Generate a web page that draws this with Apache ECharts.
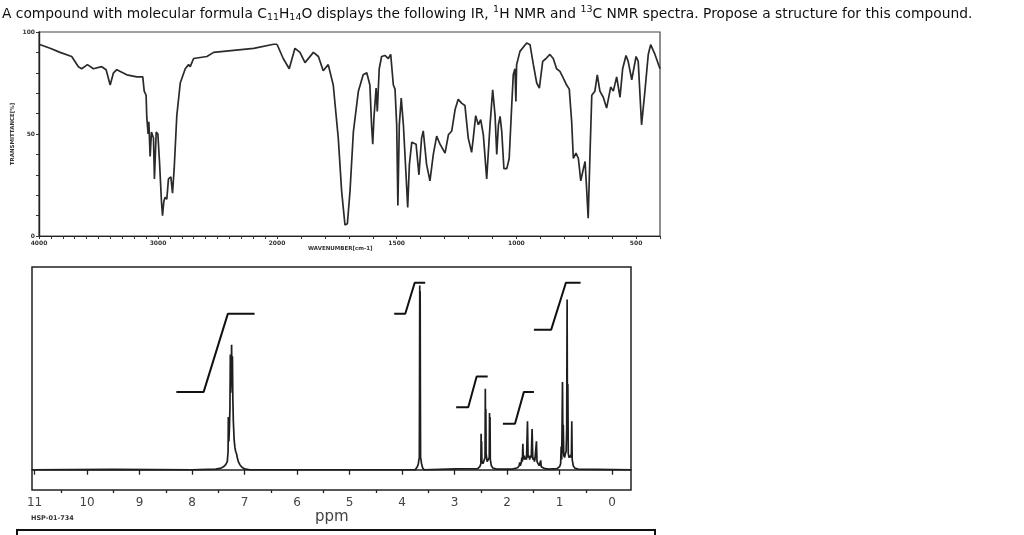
<!DOCTYPE html>
<html><head><meta charset="utf-8">
<script src="https://cdn.jsdelivr.net/npm/echarts@6/dist/echarts.min.js"></script>
<style>html,body{margin:0;padding:0;background:#fff}#c{width:1024px;height:535px}</style>
</head><body><div id="c"></div>
<script>
// ---------- IR spectrum (wavenumber cm-1, transmittance %) ----------
const irWavenumber = [4000,3907,3823,3725,3669,3641,3593,3543,3473,3436,3402,3374,3346,3262,3178,3128,3116,3100,3094,3083,3077,3066,3055,3038,3030,3015,3001,2987,2971,2962,2951,2940,2926,2912,2892,2878,2864,2842,2813,2771,2743,2729,2701,2589,2533,2365,2196,2028,2000,
1974,1949,1925,1904,1883,1848,1827,1807,1786,1765,1744,1730,1716,1706,1695,1681,1660,1640,1625,1612,1605,1600,1595,1586,1581,1573,1563,1549,1535,1525,1514,1507,1500,1495,1489,1481,1472,1461,1454,1447,1437,1419,1407,1396,1389,1375,1361,1347,1333,1319,1298,1284,1270,1256,1243,1228,1215,1201,1187,1180,1170,1159,1149,1138,1124,1110,1099,1089,1082,1075,1068,1061,1052,1040,1030,1020,1013,1006,1002,999,985,957,943,929,915,904,890,876,860,846,832,818,804,790,779,769,762,751,741,731,720,713,706,700,693,685,672,662,651,637,623,606,595,581,567,556,542,533,518,500,491,477,463,449,439,421,400];
const irTransmittance = [94,92,90,88,83,82,84,82,83,81.5,74,80,81.5,79,78,78,71,69,58,50,56,39,51,48,28,51,50,36,17,10,17,19,18,28,29,21,33,59,75,82,84,83,87,88,90,91,92,94,94,
87,82,92,90,85,90,88,81,84,74,48,22,5.4,6,22,51,71,79,80,74,54.5,45,58,72.5,61,82,88,88.5,87,89,74,72,54.5,15,54.5,67.6,54.5,30,14,35,46,45,30,48,51.5,35,27,40,49,45,40.6,49.6,51.5,62,67,65,64,48,41,48,59,54.5,57,49.6,28,54.5,71.7,59,40,54.5,58.6,51,33,33,38,62.7,79,82,66,84,90.5,94.6,93.8,84,75,72.5,85.6,87,89,87,82,80.7,77.4,74,72,56,38,40.6,38,27,33,36.5,22,8.7,38,69,71,79,71,68,62.7,73,71,78,68,82,88.5,85.6,76.6,88,85.6,54.5,71,89,93.8,89,82];
const irLabelsHigh = [4000, 3000];
const irLabelsLow = [2000, 1500, 1000, 500];
const irYLabels = [0, 50, 100];

// ---------- 1H NMR spectrum (ppm, relative intensity) ----------
const nmrShift = [11.05,9.5,8.0,7.55,7.45,7.40,7.36,7.33,7.315,7.31,7.30,7.29,7.28,7.272,7.265,7.255,7.248,7.24,7.232,7.225,7.215,7.20,7.185,7.17,7.155,7.14,7.12,7.09,7.05,7.0,6.9,4.38,4.36,4.34,3.75,3.71,3.69,3.68,3.672,3.668,3.664,3.66,3.656,3.652,3.648,3.64,3.63,3.61,3.58,2.98,2.56,2.52,2.50,2.495,2.49,2.486,2.48,2.46,2.42,2.415,2.41,2.405,2.40,2.38,2.34,2.335,2.33,2.325,2.32,2.30,2.27,2.2,1.9,1.80,1.77,1.76,1.75,1.73,1.72,1.71,1.70,1.69,1.67,1.66,1.65,1.63,1.612,1.60,1.58,1.57,1.56,1.54,1.524,1.51,1.49,1.48,1.47,1.441,1.43,1.41,1.39,1.36,1.35,1.32,1.28,1.2,1.05,1.0,0.98,0.97,0.96,0.945,0.935,0.93,0.92,0.905,0.89,0.875,0.865,0.857,0.85,0.843,0.835,0.82,0.80,0.79,0.775,0.768,0.76,0.74,0.71,0.65,0.3,-0.36];
const nmrIntensity = [0,0.2,0,0.3,0.8,1.5,2.5,4,9,26,14,20,30,56.8,38,45,61.7,44,56,36,24,15,11,9,8,6,4,2.5,1.2,0.4,0,0,0.9,0,0,1.5,3,5,6,40,90.9,45,88,40,6,5,3,1,0,0.4,0.5,1.5,3,17.8,5,14,4,3,6,40,12,30,8,4,6,28,10,26,5,2,0.8,0.3,0.3,1,2,3.6,2,3.5,6,4,12.8,5,7,5,6,5,23.9,6,7,5,7,6,20.1,5,6,4,5,14,4,3,2,4.6,1.5,1,0.5,0.3,0.5,1.5,3,11.5,5,43.3,8,22.2,7,6,8,9,20,84,15,42.3,8,6,7,6,8,23.9,5,2,0.8,0.3,0.2,0];
const nmrTickLabels = [0,1,2,3,4,5,6,7,8,9,10,11];
const nmrHalfTicks = [0.5,1.5,2.5,3.5,4.5,5.5,6.5,7.5,8.5,9.5,10.5];
// integration curves: [start, plateau end, rise end, finish] in ppm and levels
const integralShift = [[8.30,7.78,7.32,6.81],[4.15,3.94,3.76,3.56],[2.97,2.74,2.58,2.37],[2.08,1.85,1.68,1.49],[1.49,1.16,0.88,0.60]];
const integralLevel = [[38.4,38.4,76.9,76.9],[76.9,76.9,92.2,92.2],[30.8,30.8,46.0,46.0],[22.7,22.7,38.4,38.4],[69.1,69.1,92.2,92.2]];

const FONT = 'DejaVu Sans';
const irHigh = [], irLow = [];
irWavenumber.forEach((w, i) => {
  if (w >= 2000) irHigh.push([w, irTransmittance[i]]);
  if (w <= 2000) irLow.push([w, irTransmittance[i]]);
});
const nmrData = nmrShift.map((s, i) => [s, nmrIntensity[i]]);

const plain = v => String(v);
const irLabelStyle = {fontSize: 6, fontWeight: 'bold', color: '#333', fontFamily: FONT, margin: 4, formatter: plain};
const series = [
  {type: 'line', xAxisIndex: 0, yAxisIndex: 0, data: irHigh, symbol: 'none', clip: true,
   lineStyle: {color: '#2a2a2a', width: 1.7}},
  {type: 'line', xAxisIndex: 1, yAxisIndex: 1, data: irLow, symbol: 'none', clip: true,
   lineStyle: {color: '#2a2a2a', width: 1.7}},
  {type: 'line', xAxisIndex: 2, yAxisIndex: 2, data: nmrData, symbol: 'none', clip: true,
   lineStyle: {color: '#1e1e1e', width: 1.7}}
];
integralShift.forEach((xs, k) => {
  series.push({type: 'line', xAxisIndex: 2, yAxisIndex: 2, symbol: 'none',
    data: xs.map((x, i) => [x, integralLevel[k][i]]),
    lineStyle: {color: '#111', width: 2}});
});

const chart = echarts.init(document.getElementById('c'), null, {renderer: 'canvas'});
chart.setOption({
  animation: false,
  backgroundColor: '#fff',
  title: {
    text: 'A compound with molecular formula C{sub|11}H{sub|14}O displays the following IR, {sup|1}H NMR and {sup|13}C NMR spectra. Propose a structure for this compound.',
    left: 2, top: 5, padding: 0,
    textStyle: {fontFamily: FONT, fontSize: 13.8, fontWeight: 'normal', color: '#111', lineHeight: 18,
      rich: {
        sub: {fontFamily: FONT, fontSize: 9.5, color: '#111', verticalAlign: 'bottom', lineHeight: 10},
        sup: {fontFamily: FONT, fontSize: 9.5, color: '#111', verticalAlign: 'top', lineHeight: 10}
      }}
  },
  grid: [
    {left: 39, top: 32, width: 238, height: 204, show: false},
    {left: 277, top: 32, width: 383, height: 204, show: false},
    {left: 32, top: 267, width: 599, height: 223, show: true, borderColor: '#222', borderWidth: 1.5, backgroundColor: 'transparent'}
  ],
  xAxis: [
    {type: 'value', gridIndex: 0, min: 2000, max: 4000, interval: 100, inverse: true,
     axisLine: {lineStyle: {color: '#222', width: 1.2}},
     axisTick: {length: 3, lineStyle: {color: '#333'}},
     axisLabel: Object.assign({customValues: irLabelsHigh}, irLabelStyle),
     splitLine: {show: false}},
    {type: 'value', gridIndex: 1, min: 400, max: 2000, interval: 100, inverse: true,
     axisLine: {lineStyle: {color: '#222', width: 1.2}},
     axisTick: {length: 3, lineStyle: {color: '#333'}},
     axisLabel: Object.assign({customValues: irLabelsLow}, irLabelStyle),
     splitLine: {show: false}},
    {type: 'value', gridIndex: 2, min: -0.36, max: 11.05, inverse: true,
     axisLine: {lineStyle: {color: '#222', width: 1.5}},
     axisTick: {customValues: nmrTickLabels, length: 5, lineStyle: {color: '#222', width: 1.3}},
     axisLabel: {customValues: nmrTickLabels, fontSize: 12, color: '#444', fontFamily: FONT, margin: 7},
     splitLine: {show: false}},
    {type: 'value', gridIndex: 2, min: -0.36, max: 11.05, inverse: true, position: 'bottom',
     axisLine: {show: false},
     axisTick: {customValues: nmrHalfTicks, length: 3, lineStyle: {color: '#222', width: 1.3}},
     axisLabel: {show: false}, splitLine: {show: false}}
  ],
  yAxis: [
    {type: 'value', gridIndex: 0, min: 0, max: 100, interval: 10,
     name: 'TRANSMITTANCE[%]', nameLocation: 'middle', nameGap: 23, nameRotate: 90,
     nameTextStyle: {fontSize: 5.5, fontWeight: 'bold', color: '#333', fontFamily: FONT},
     axisLine: {show: true, lineStyle: {color: '#222', width: 1.4}},
     axisTick: {show: true, length: 3, lineStyle: {color: '#333'}},
     axisLabel: Object.assign({customValues: irYLabels}, irLabelStyle),
     splitLine: {show: false}},
    {type: 'value', gridIndex: 1, min: 0, max: 100, show: false},
    {type: 'value', gridIndex: 2, min: -10, max: 100, show: false}
  ],
  graphic: [
    {type: 'rect', shape: {x: 39, y: 32, width: 621, height: 204}, style: {fill: 'none', stroke: '#444', lineWidth: 1.2}, silent: true},
    {type: 'text', left: 308, top: 246, style: {text: 'WAVENUMBER[cm-1]', fontSize: 5.5, fontWeight: 'bold', fill: '#333', fontFamily: FONT}},
    {type: 'text', left: 31, top: 515, style: {text: 'HSP-01-734', fontSize: 6.5, fontWeight: 'bold', fill: '#333', fontFamily: FONT}},
    {type: 'text', left: 315, top: 510, style: {text: 'ppm', fontSize: 15, fill: '#444', fontFamily: FONT}},
    {type: 'rect', shape: {x: 17, y: 530, width: 638, height: 20}, style: {fill: 'none', stroke: '#111', lineWidth: 2}, silent: true}
  ],
  series: series
});
</script></body></html>
